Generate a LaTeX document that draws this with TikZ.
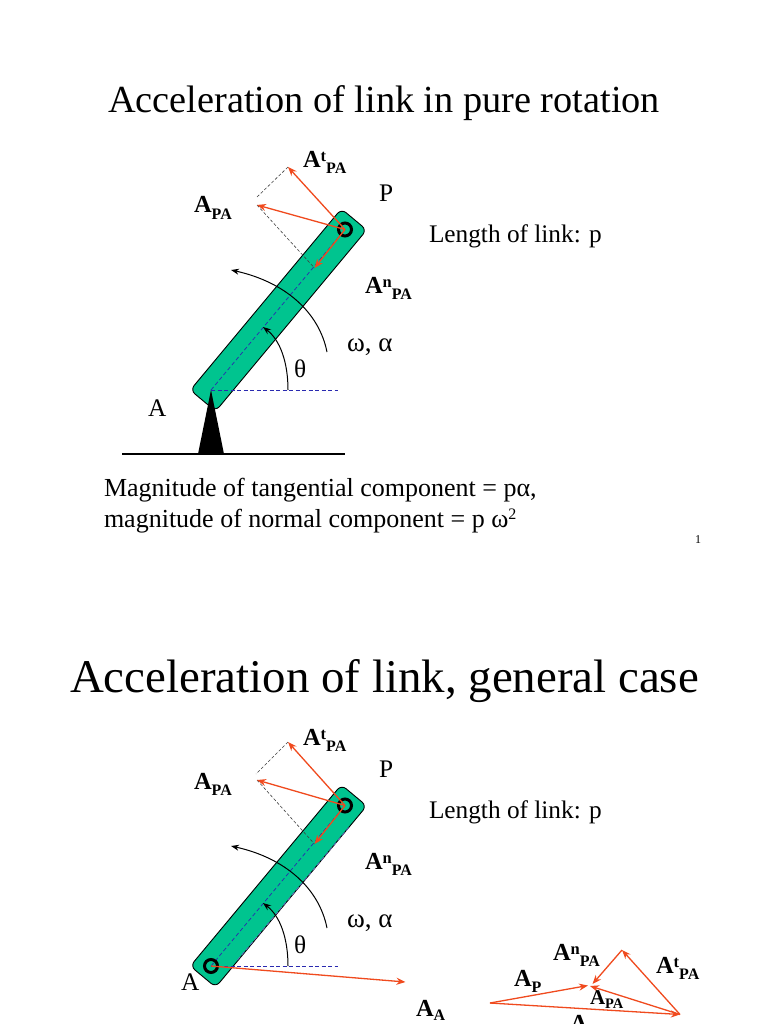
\documentclass[tikz,border=0pt]{standalone}
\usepackage{fontspec}
\setmainfont{Liberation Serif}
\usetikzlibrary{arrows.meta}
\definecolor{linkgreen}{HTML}{00C48F}
\definecolor{vecred}{HTML}{F04A1E}
\definecolor{dashblue}{HTML}{2A2AB0}
\newcommand{\fsz}[1]{\fontsize{#1}{#1}\selectfont}
\newcommand{\veclab}[2]{{\fsz{24.5}\bfseries A\raisebox{6pt}{\fsz{16.5}\bfseries #1}\raisebox{-6pt}{\fsz{16}\bfseries #2}}}
\newcommand{\veclabb}[1]{{\fsz{24.5}\bfseries A\raisebox{-6pt}{\fsz{16}\bfseries #1}}}
\tikzset{
  x=1pt,y=-1pt,
  lab/.style={inner sep=0pt,outer sep=0pt,anchor=base west},
  plain/.style={lab,font=\fsz{25.3}},
  body/.style={lab,font=\fsz{26}},
  linkbar/.style={draw=black,line width=0.9pt,fill=linkgreen,rounded corners=6pt,rotate=50.2,minimum width=236pt,minimum height=33pt,inner sep=0pt},
  redvec/.style={draw=vecred,line width=1.3pt,-{Stealth[length=9pt,width=7pt]}},
  guide/.style={draw=black!75,line width=0.6pt,dash pattern=on 3pt off 2pt},
  bluedash/.style={draw=dashblue,line width=0.7pt,dash pattern=on 4pt off 2.5pt},
  turn/.style={draw=black,line width=1pt,-{Stealth[length=8pt,width=6pt]}},
  ring/.style={circle,draw=black,line width=3pt,minimum size=13pt,inner sep=0pt,fill=none},
}
\begin{document}
\begin{tikzpicture}
\useasboundingbox (0,0) rectangle (768,1024);
\clip (0,0) rectangle (768,1024);
\fill[white] (0,0) rectangle (768,1024);
% ---------- top slide
\node[lab,font=\fsz{38.3}] (t1) at (108,113) {Acceleration of link in pure rotation};
\coordinate (g1) at (122,454); \coordinate (g2) at (345,454);
\draw[line width=2.6pt] (g1) -- (g2);
\node[linkbar] (bar1) at (278.5,310) {};
\coordinate (a1) at (211,390); \coordinate (p1) at (345,229.5);
\coordinate (h1) at (338,390);
\fill[black] (198,454) -- (a1) -- (224,454) -- cycle;
\draw[bluedash] (a1) -- (h1);
\draw[bluedash] (a1) -- (p1);
\coordinate (at1) at (288,167); \coordinate (ap1) at (257,205); \coordinate (an1) at (314.5,268);
\coordinate (cr1) at (256,198);
\draw[guide] (at1) -- (cr1);
\draw[guide] (ap1) -- (an1);
\draw[turn] (327,352) .. controls (319,312) and (285,282) .. (231,270);
\draw[turn] (288,390) .. controls (288,362) and (280,340) .. (263,327);
\node[ring] (pin1) at (p1) {};
\draw[redvec] (p1) -- (at1);
\draw[redvec] (p1) -- (ap1);
\draw[redvec] (p1) -- (an1);
\node[lab] (l1) at (303,168) {\veclab{t}{PA}};
\node[lab] (l2) at (194,213) {\veclabb{PA}};
\node[lab] (l3) at (379,202) {\fsz{25.3}P};
\node[plain] (l4) at (429,242) {Length of link: p};
\node[lab] (l5) at (365,293) {\veclab{n}{PA}};
\node[lab,font=\fsz{27}] (l6) at (347,351) {ω, α};
\node[lab,font=\fsz{25.3}] (l7) at (294,377) {θ};
\node[plain] (l8) at (148,416) {A};
\node[body] (l9) at (104,496) {Magnitude of tangential component = pα,};
\node[body] (l10) at (104,527) {magnitude of normal component = p ω\raisebox{8pt}{\fsz{16}2}};
\node[lab,font=\fsz{12}] (n1) at (695,543) {1};
% ---------- bottom slide
\node[lab,font=\fsz{46.9}] (t2) at (70,692) {Acceleration of link, general case};
\node[linkbar] (bar2) at (278.5,886) {};
\coordinate (a2) at (211,966); \coordinate (p2) at (345,805.5);
\coordinate (h2) at (338,966);
\coordinate (e1) at (237.5,960); \coordinate (e2) at (350,826);
\draw[bluedash,draw=dashblue!70] (e1) -- (e2);
\draw[bluedash] (a2) -- (h2);
\draw[bluedash] (a2) -- (p2);
\coordinate (at2) at (288,742); \coordinate (ap2) at (257,780); \coordinate (an2) at (314.5,844);
\coordinate (cr2) at (256,774);
\draw[guide] (at2) -- (cr2);
\draw[guide] (ap2) -- (an2);
\draw[turn] (327,928) .. controls (319,888) and (285,858) .. (231,846);
\draw[turn] (288,966) .. controls (288,938) and (280,916) .. (263,903);
\node[ring] (pin2) at (p2) {};
\node[ring] (pin3) at (a2) {};
\draw[redvec] (p2) -- (at2);
\draw[redvec] (p2) -- (ap2);
\draw[redvec] (p2) -- (an2);
\coordinate (aa) at (405.5,982);
\draw[redvec] (a2) -- (aa);
\node[lab] (m1) at (303,745) {\veclab{t}{PA}};
\node[lab] (m2) at (194,789) {\veclabb{PA}};
\node[lab] (m3) at (379,777) {\fsz{25.3}P};
\node[plain] (m4) at (429,818) {Length of link: p};
\node[lab] (m5) at (365,869) {\veclab{n}{PA}};
\node[lab,font=\fsz{27}] (m6) at (347,927) {ω, α};
\node[lab,font=\fsz{25.3}] (m7) at (294,953) {θ};
\node[plain] (m8) at (181,990) {A};
\node[lab] (m9) at (416,1016) {\fsz{24.5}\bfseries A\raisebox{-4pt}{\fsz{16}\bfseries A}};
% vector polygon
\coordinate (o) at (490,1003); \coordinate (tp) at (588,985.5);
\coordinate (tq) at (680,1014.5); \coordinate (ta) at (622,950); \coordinate (tr) at (590,986);
\coordinate (ts) at (592.5,984);
\draw[redvec] (o) -- (tp);
\draw[redvec] (o) -- (tq);
\draw[redvec] (tq) -- (tr);
\draw[redvec] (tq) -- (ta);
\draw[redvec] (ta) -- (ts);
\node[lab] (v1) at (553,960) {\veclab{n}{PA}};
\node[lab] (v2) at (514,986) {\veclabb{P}};
\node[lab] (v3) at (590,1004) {\fsz{21}\bfseries A\raisebox{-4pt}{\fsz{14.5}\bfseries PA}};
\node[lab] (v4) at (656,973) {\veclab{t}{PA}};
\node[lab] (v5) at (570,1031) {\fsz{24.5}\bfseries A};
\end{tikzpicture}
\end{document}
